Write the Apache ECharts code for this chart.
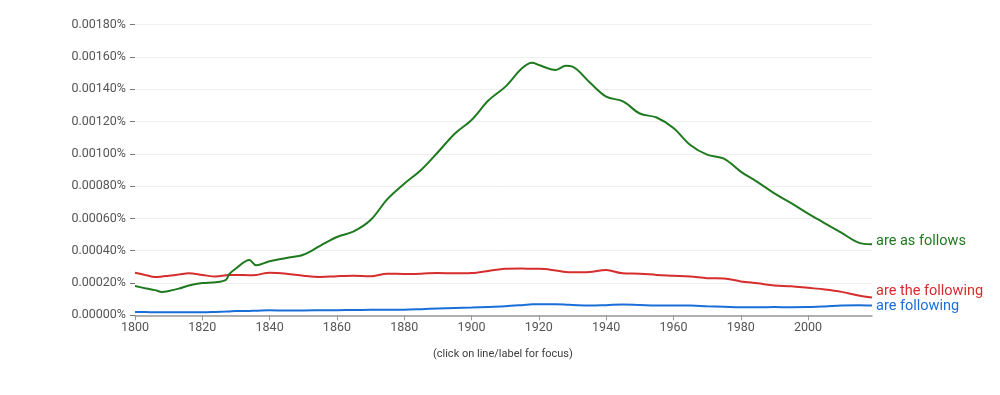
<!DOCTYPE html>
<html>
<head>
<meta charset="utf-8">
<script src="https://cdn.jsdelivr.net/npm/echarts@6/dist/echarts.min.js"></script>
<style>
html,body{margin:0;padding:0;background:#fff;}
#chart{width:1000px;height:395px;}
</style>
</head>
<body>
<div id="chart"></div>
<script>
const years = [1800,1803,1806,1808,1810,1813,1816,1820,1824,1827,1828,1830,1834,1836,1840,1845,1850,1855,1860,1865,1870,1875,1880,1885,1890,1895,1900,1905,1910,1915,1918,1920,1925,1928,1930,1935,1940,1945,1950,1955,1960,1965,1970,1975,1980,1985,1990,1995,2000,2005,2010,2015,2019];

const areAsFollows = [0.000181,0.000168,0.000156,0.000144,0.000150,0.000165,0.000185,0.000200,0.000205,0.000220,0.000255,0.000290,0.000342,0.000310,0.000335,0.000355,0.000375,0.000430,0.000485,0.000520,0.000590,0.000720,0.000815,0.000900,0.001010,0.001125,0.001210,0.001330,0.001415,0.001530,0.001565,0.001550,0.001520,0.001545,0.001540,0.001445,0.001355,0.001325,0.001250,0.001225,0.001160,0.001055,0.000995,0.000970,0.000890,0.000825,0.000755,0.000695,0.000630,0.000570,0.000510,0.000450,0.000440];

const areTheFollowing = [0.000264,0.000250,0.000237,0.000240,0.000245,0.000252,0.000260,0.000250,0.000240,0.000248,0.000250,0.000250,0.000248,0.000250,0.000264,0.000258,0.000245,0.000237,0.000242,0.000245,0.000242,0.000258,0.000256,0.000258,0.000262,0.000260,0.000262,0.000275,0.000289,0.000290,0.000288,0.000288,0.000278,0.000268,0.000266,0.000268,0.000280,0.000260,0.000258,0.000250,0.000245,0.000240,0.000230,0.000228,0.000210,0.000198,0.000185,0.000180,0.000170,0.000160,0.000145,0.000122,0.000110];

const areFollowing = [0.000020,0.000020,0.000019,0.000019,0.000019,0.000019,0.000019,0.000019,0.000021,0.000023,0.000024,0.000026,0.000027,0.000028,0.000031,0.000030,0.000030,0.000031,0.000032,0.000033,0.000034,0.000035,0.000035,0.000038,0.000042,0.000045,0.000048,0.000052,0.000056,0.000063,0.000068,0.000069,0.000068,0.000066,0.000064,0.000060,0.000063,0.000067,0.000064,0.000061,0.000060,0.000060,0.000056,0.000053,0.000050,0.000050,0.000051,0.000050,0.000051,0.000055,0.000060,0.000062,0.000060];

const seriesNames = ['are as follows','are the following','are following'];
const seriesColors = ['#1f7a1f','#d62d2d','#1a6ed8'];

function pairs(vals){ return years.map((y,i)=>[y, vals[i]]); }

const chart = echarts.init(document.getElementById('chart'), null, {renderer:'canvas'});
const font = 'Roboto, "Noto Sans", sans-serif';
const endOffsets = [[0,-3],[0,-6],[0,1]];
const allData = [areAsFollows, areTheFollowing, areFollowing];

chart.setOption({
  animation:false,
  backgroundColor:'#fff',
  grid:{left:135, right:128, top:24.7, bottom:79.7, containLabel:false},
  xAxis:{
    type:'value', min:1800, max:2019, interval:20,
    axisLine:{show:true, lineStyle:{color:'#999', width:1.5}},
    axisTick:{show:true, length:5, lineStyle:{color:'#999'}},
    axisLabel:{color:'#555', fontFamily:font, fontSize:12.5, margin:6, showMaxLabel:false,
      formatter:v=> (v%20===0? String(v):'')},
    splitLine:{show:false}
  },
  yAxis:{
    type:'value', min:0, max:0.0018, interval:0.0002,
    axisLine:{show:false},
    axisTick:{show:true, length:5, inside:false, lineStyle:{color:'#777'}},
    axisLabel:{color:'#555', fontFamily:font, fontSize:12.5, margin:9,
      formatter:v=> v.toFixed(5)+'%'},
    splitLine:{show:true, lineStyle:{color:'#efefef', width:1}}
  },
  series: seriesNames.map((n,i)=>({
    name:n, type:'line', data:pairs(allData[i]), smooth:0.35, showSymbol:false, symbol:'none',
    lineStyle:{color:seriesColors[i], width:2},
    itemStyle:{color:seriesColors[i]},
    endLabel:{show:true, formatter:n, color:seriesColors[i], fontFamily:font, fontSize:14.5, distance:4, offset:endOffsets[i]},
    z: 3-i
  })),
  graphic:[{type:'text', left:433, top:349, style:{text:'(click on line/label for focus)', fill:'#3c3c3c', font:'11px Roboto, sans-serif'}}]
});
</script>
</body>
</html>
